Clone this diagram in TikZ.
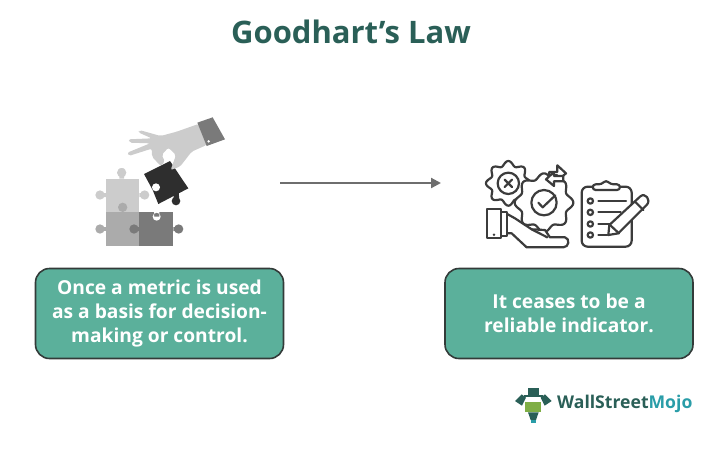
\documentclass[tikz,border=0pt]{standalone}
\usepackage{fontspec}
\setmainfont{Open Sans}
\usepackage{tikz}
\usetikzlibrary{arrows.meta, positioning}
\definecolor{titlegreen}{HTML}{2A5F57}
\definecolor{boxgreen}{HTML}{5BB09B}
\definecolor{boxedge}{HTML}{333B39}
\definecolor{arrowgray}{HTML}{6E6E6E}
\definecolor{iconline}{HTML}{3C3C3C}
\definecolor{mojoblue}{HTML}{2A9DA8}
\definecolor{vestgreen}{HTML}{7FAE45}
\tikzset{
  textbox/.style={draw=boxedge, line width=1.6pt, fill=boxgreen, rounded corners=14pt,
    minimum width=248pt, minimum height=90pt, align=center, text=white,
    font=\fontsize{19.2}{24}\selectfont\bfseries},
  iconstroke/.style={draw=iconline, line width=2.2pt, line join=round, line cap=round, fill=white}
}
\begin{document}
\begin{tikzpicture}[x=1pt, y=-1pt]
  \useasboundingbox (0,0) rectangle (715,451);
  \node[font=\fontsize{31}{36}\selectfont\bfseries, text=titlegreen] (title) at (351,32) {Goodhart’s Law};

  \node[textbox] (metric) at (159.5,313.5) {Once a metric is used\\as a basis for decision-\\making or control.};
  \node[textbox] (reliable) at (569,313.5) {It ceases to be a\\reliable indicator.};

  \coordinate (arrowstart) at (280,183);
  \coordinate (arrowend) at (441,183);
  \draw[arrowgray, line width=2.2pt, -{Triangle[length=10pt,width=10pt]}] (arrowstart) -- (arrowend);

  % puzzle and hand
  \begin{scope}[shift={(70,100)}, scale=1/3]
    \fill[black!20] (108,236) rectangle (208,337);
    \fill[black!20] (155,218) circle (14) (90,285) circle (14) (224,285) circle (14);
    \fill[black!20] (148,205) rectangle (162,236) (85,279) rectangle (108,291) (208,279) rectangle (230,291);
    \fill[black!33] (108,337) rectangle (208,438);
    \fill[black!33] (158,322) circle (14) (90,387) circle (14);
    \fill[black!33] (85,381) rectangle (108,393);
    \fill[black!52] (208,337) rectangle (310,438);
    \fill[black!52] (192,387) circle (14) (326,387) circle (14);
    \fill[black!52] (182,381) rectangle (208,393) (310,381) rectangle (332,393);
    \fill[white] (260,350) circle (12) (252,335) rectangle (268,350);
    \fill[black!82] (222,222) -- (300,183) -- (355,265) -- (265,312) -- (248,270) -- cycle;
    \fill[black!82] (318,303) circle (13) (310,272) -- (325,264) -- (328,300) -- (312,305) -- cycle;
    \fill[white] (258,262) circle (12);
    \fill[black!20, rounded corners=2pt] (385,72) -- (320,95) -- (272,108) -- (208,90) -- (205,97) -- (245,115)
      -- (176,118) -- (178,128) -- (240,130) -- (172,158) -- (176,168) -- (245,146) -- (246,170) -- (272,198)
      -- (285,185) -- (275,165) -- (295,143) -- (318,165) -- (302,210) -- (330,200) -- (365,155) -- (410,135) -- cycle;
    \fill[black!52] (382,68) -- (428,52) -- (465,118) -- (410,138) -- cycle;
    \fill[white] (416,124) circle (4);
  \end{scope}

  % gears, hand and clipboard
  \begin{scope}[shift={(470,150)}, scale=1/3]
    \draw[iconstroke] plot[domain=0:360, samples=145, smooth] ({115+(60+7*cos(8*\x))*cos(\x)}, {100+(60+7*cos(8*\x))*sin(\x)}) -- cycle;
    \draw[iconstroke] (115,100) circle (32);
    \draw[iconstroke] (104,89) -- (126,111) (126,89) -- (104,111);
    \draw[iconstroke] plot[domain=0:360, samples=145, smooth] ({222+(80+8*cos(8*\x))*cos(\x)}, {158+(80+8*cos(8*\x))*sin(\x)}) -- cycle;
    \draw[iconstroke] (222,158) circle (38);
    \draw[iconstroke] (205,158) -- (218,172) -- (256,136);
    % small arrows on the gear
    \draw[iconstroke] (238,66) -- (262,66) -- (262,46) -- (288,70) -- (262,92) -- (262,76) -- (238,76) -- cycle;
    \draw[iconstroke] (280,78) -- (252,78) -- (252,66) -- (228,88) -- (252,108) -- (252,94) -- (280,94) -- cycle;
    % open hand
    \draw[iconstroke] (108,190) -- (135,205) -- (185,238) -- (225,240) -- (240,262) -- (285,262)
      .. controls (300,265) and (298,292) .. (280,292) -- (170,292) -- (125,250) -- (108,250) -- cycle;
    \draw[iconstroke] (185,238) -- (232,262);
    \draw[iconstroke] (50,178) rectangle (92,265);
    \draw[iconstroke] (92,185) rectangle (110,258);
    \fill[iconline] (72,254) circle (4);
    % clipboard
    \draw[iconstroke, rounded corners=6pt] (335,110) rectangle (485,290);
    \draw[iconstroke, rounded corners=3pt] (368,120) -- (368,103) -- (395,103) -- (408,90) -- (422,103) -- (450,103) -- (450,120) -- cycle;
    \foreach \y in {153,187,222,255} {
      \draw[iconstroke] (361,\y) circle (8);
    }
    \draw[iconstroke] (385,153) -- (468,153) (385,187) -- (452,187) (385,222) -- (425,222) (385,255) -- (412,255);
    \draw[iconstroke] (510,140) .. controls (525,125) and (545,150) .. (530,165) -- (445,250) -- (415,255) -- (418,225) -- cycle;
    \draw[iconstroke] (420,225) -- (447,250);
    \draw[iconstroke] (495,155) -- (520,180);
  \end{scope}

  % logo
  \begin{scope}[shift={(500,375)}, scale=1/3]
    \fill[titlegreen] (84,38) rectangle (116,62);
    \fill[titlegreen] (72,60) rectangle (128,66);
    \fill[titlegreen] (45,78) -- (65,58) -- (78,68) -- (66,92) -- cycle;
    \fill[titlegreen] (155,78) -- (135,58) -- (122,68) -- (134,92) -- cycle;
    \fill[vestgreen] (76,82) rectangle (124,112);
    \fill[titlegreen] (84,112) -- (116,112) -- (108,135) -- (92,135) -- cycle;
    \fill[mojoblue] (93,135) rectangle (107,145);
  \end{scope}
  \node[anchor=west, inner sep=0pt, font=\fontsize{17.6}{20}\selectfont\bfseries, text=titlegreen] (logotext) at (557,404)
    {WallStreet\textcolor{mojoblue}{Mojo}};
\end{tikzpicture}
\end{document}
